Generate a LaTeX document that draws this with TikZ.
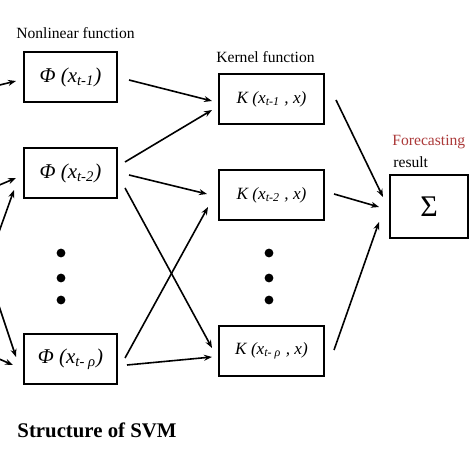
\documentclass[tikz,border=0pt]{standalone}
\usepackage{fontspec}
\setmainfont{Liberation Serif}
\usetikzlibrary{arrows.meta}
\definecolor{fcred}{RGB}{172,58,58}

\begin{document}
\begin{tikzpicture}[x=0.5pt, y=-0.5pt,
    box/.style={draw, line width=1pt, inner sep=0pt},
    phibox/.style={box, minimum width=46.5pt, minimum height=25pt, font=\fontsize{10.5}{12}\selectfont\itshape},
    kbox/.style={box, minimum width=52.5pt, minimum height=25pt, font=\fontsize{8.6}{10}\selectfont\itshape},
    link/.style={-{Stealth[length=4pt, width=3pt]}, line width=0.8pt},
    lbl/.style={font=\fontsize{7.8}{9}\selectfont, inner sep=0pt}]
        \clip (0,0) rectangle (474,474);
        \fill[white] (0,0) rectangle (474,474);

        % Nonlinear function
        \node[lbl] (nltxt) at (75.5,33) {Nonlinear function};
        \node[phibox] (phi1) at (70.5,77) {Φ (x\textsubscript{t-1})};
        \node[phibox] (phi2) at (70.5,173.5) {Φ (x\textsubscript{t-2})};
        \node[phibox] (phi3) at (70.5,359) {Φ (x\textsubscript{t- ρ})};

        % Kernel function
        \node[lbl] (kftxt) at (265.5,57) {Kernel function};
        \node[kbox] (k1) at (271.5,99) {K (x\textsubscript{t-1} , x)};
        \node[kbox] (k2) at (271.5,195) {K (x\textsubscript{t-2} , x)};
        \node[kbox] (k3) at (271.5,350.5) {K (x\textsubscript{t- ρ} , x)};

        % Forecasting result
        \node[lbl, anchor=west, text=fcred] (fctxt) at (392,142) {Forecasting};
        \node[lbl, anchor=west] (restxt) at (393,162) {result};
        \node[box, minimum width=39pt, minimum height=31.5pt, font=\fontsize{15}{17}\selectfont] (sum) at (429,206.5) {Σ};

        % dots
        \foreach \y in {253,278,300} {
          \fill (61,\y) circle (2.2pt);
          \fill (269,\y) circle (2.2pt);
        }

        % inputs from the left
        \coordinate (in1) at (-10,87.4);
        \coordinate (in2) at (-10,189);
        \coordinate (in3) at (-5,243);
        \coordinate (in4) at (-5,294);
        \coordinate (in5) at (-10,355);
        \draw[link] (in1) -- ([xshift=-3.5pt, yshift=-2pt]phi1.west);
        \draw[link] (in2) -- ([xshift=-3.5pt, yshift=-2.25pt]phi2.west);
        \draw[link] (in3) -- ([xshift=-4.5pt, yshift=-8.25pt]phi2.west);
        \draw[link] (in4) -- ([xshift=-3.5pt, yshift=1pt]phi3.west);
        \draw[link] (in5) -- ([xshift=-5pt, yshift=-3pt]phi3.west);

        % nonlinear -> kernel
        \draw[link] ([xshift=5.5pt, yshift=-1.5pt]phi1.east) -- ([xshift=-3pt, yshift=-1pt]k1.west);
        \draw[link] ([xshift=3.5pt, yshift=5.75pt]phi2.east) -- ([xshift=-3pt, yshift=-5.5pt]k1.west);
        \draw[link] ([xshift=5.5pt, yshift=-0.75pt]phi2.east) -- ([xshift=-5.5pt, yshift=0.5pt]k2.west);
        \draw[link] ([xshift=3.5pt, yshift=-7.25pt]phi2.east) -- ([xshift=-3pt, yshift=1.25pt]k3.west);
        \draw[link] ([xshift=3.5pt, yshift=0.5pt]phi3.east) -- ([xshift=-5pt, yshift=-6pt]k2.west);
        \draw[link] ([xshift=4.5pt, yshift=-3pt]phi3.east) -- ([xshift=-3pt, yshift=-3.25pt]k3.west);

        % kernel -> sum
        \draw[link] ([xshift=5.5pt, yshift=-0.5pt]k1.east) -- ([xshift=-3pt, yshift=4.75pt]sum.west);
        \draw[link] ([xshift=4.5pt, yshift=0.5pt]k2.east) -- ([xshift=-5pt, yshift=-0.25pt]sum.west);
        \draw[link] ([xshift=4.5pt, yshift=0.25pt]k3.east) -- ([xshift=-5pt, yshift=-7.75pt]sum.west);

        % caption
        \node[font=\fontsize{10.4}{12}\selectfont\bfseries, inner sep=0pt] (cap) at (97,430) {Structure of SVM};
      \end{tikzpicture}
\end{document}
